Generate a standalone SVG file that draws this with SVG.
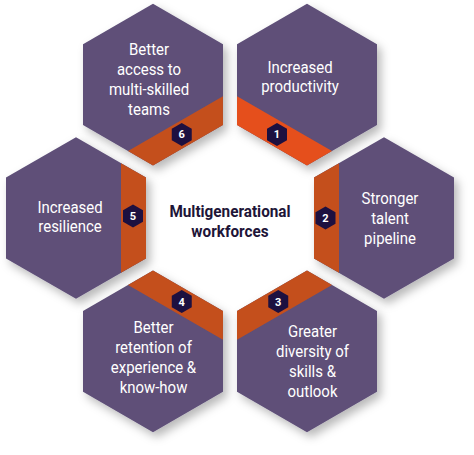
<svg xmlns="http://www.w3.org/2000/svg" width="474" height="455" viewBox="0 0 474 455">
<style>
.hex{fill:#5E4F78}
.band{fill:#C4501D}
.band1{fill:#E5501C}
.badge{fill:#1D1040}
.num{fill:#FFFFFF;font-family:Roboto,"Liberation Sans",sans-serif;font-weight:bold;font-size:11px;text-anchor:middle}
.lbl{fill:#FFFFFF;font-family:Roboto,"Liberation Sans",sans-serif;font-size:17px;text-anchor:middle}
.ctr{fill:#1E1538;font-family:Roboto,"Liberation Sans",sans-serif;font-weight:bold;font-size:17px;text-anchor:middle}
</style>
<defs>
<path id="hx" d="M0,-80.8 L70,-40.4 L70,40.4 L0,80.8 L-70,40.4 L-70,-40.4 Z"/>
<path id="bd" d="M45,-54.8 L70,-40.4 L70,40.4 L45,54.8 Z"/>
<path id="bg" d="M0,-11.5 L10,-5.75 L10,5.75 L0,11.5 L-10,5.75 L-10,-5.75 Z"/>
<filter id="sh" x="-20%" y="-20%" width="150%" height="150%">
<feDropShadow dx="4" dy="5" stdDeviation="5" flood-color="#000" flood-opacity="0.28"/>
</filter>
</defs>
<rect width="474" height="455" fill="#FFFFFF"/>
<g id="connectors"/>
<g id="node-6">
<g transform="translate(153,84.6)" filter="url(#sh)"><use href="#hx" class="hex"/><use href="#bd" class="band" transform="rotate(60)"/></g>
<use href="#bg" class="badge" x="181.75" y="134.4"/>
<text class="num" x="181.75" y="138.4">6</text>
<text class="lbl" transform="translate(149,55) scale(0.88,1)"><tspan x="0" y="0">Better</tspan><tspan x="0" y="20">access to</tspan><tspan x="0" y="40">multi-skilled</tspan><tspan x="0" y="60">teams</tspan></text>
</g>
<g id="node-1">
<g transform="translate(307,84.6)" filter="url(#sh)"><use href="#hx" class="hex"/><use href="#bd" class="band1" transform="rotate(120)"/></g>
<use href="#bg" class="badge" x="277" y="134.4"/>
<text class="num" x="277" y="138.4">1</text>
<text class="lbl" transform="translate(300,72.5) scale(0.88,1)"><tspan x="0" y="0">Increased</tspan><tspan x="0" y="20">productivity</tspan></text>
</g>
<g id="node-2">
<g transform="translate(384,218)" filter="url(#sh)"><use href="#hx" class="hex"/><use href="#bd" class="band" transform="rotate(180)"/></g>
<use href="#bg" class="badge" x="325.5" y="218"/>
<text class="num" x="325.5" y="222">2</text>
<text class="lbl" transform="translate(390,204) scale(0.88,1)"><tspan x="0" y="0">Stronger</tspan><tspan x="0" y="20">talent</tspan><tspan x="0" y="40">pipeline</tspan></text>
</g>
<g id="node-3">
<g transform="translate(307,351.4)" filter="url(#sh)"><use href="#hx" class="hex"/><use href="#bd" class="band" transform="rotate(240)"/></g>
<use href="#bg" class="badge" x="278.25" y="301.6"/>
<text class="num" x="278.25" y="305.6">3</text>
<text class="lbl" transform="translate(312.5,337) scale(0.88,1)"><tspan x="0" y="0">Greater</tspan><tspan x="0" y="20">diversity of</tspan><tspan x="0" y="40">skills &amp;</tspan><tspan x="0" y="60">outlook</tspan></text>
</g>
<g id="node-4">
<g transform="translate(153,351.4)" filter="url(#sh)"><use href="#hx" class="hex"/><use href="#bd" class="band" transform="rotate(300)"/></g>
<use href="#bg" class="badge" x="181.75" y="301.6"/>
<text class="num" x="181.75" y="305.6">4</text>
<text class="lbl" transform="translate(153.5,333) scale(0.88,1)"><tspan x="0" y="0">Better</tspan><tspan x="0" y="20">retention of</tspan><tspan x="0" y="40">experience &amp;</tspan><tspan x="0" y="60">know-how</tspan></text>
</g>
<g id="node-5">
<g transform="translate(76,218)" filter="url(#sh)"><use href="#hx" class="hex"/><use href="#bd" class="band"/></g>
<use href="#bg" class="badge" x="133" y="216"/>
<text class="num" x="133" y="220">5</text>
<text class="lbl" transform="translate(70,212.5) scale(0.88,1)"><tspan x="0" y="0">Increased</tspan><tspan x="0" y="20">resilience</tspan></text>
</g>
<g id="center">
<text class="ctr" transform="translate(230,217) scale(0.9,1)"><tspan x="0" y="0">Multigenerational</tspan><tspan x="0" y="20">workforces</tspan></text>
</g>
</svg>
